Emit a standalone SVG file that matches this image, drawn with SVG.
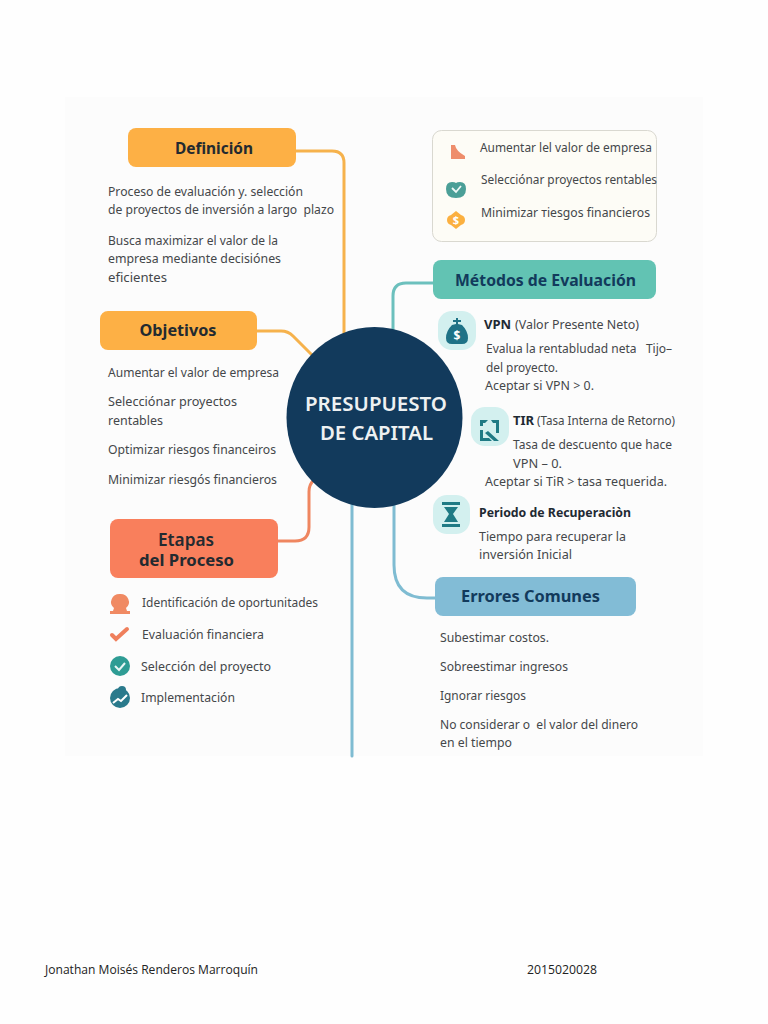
<svg xmlns="http://www.w3.org/2000/svg" width="768" height="1024" viewBox="0 0 768 1024">
<style>
text{font-family:"Noto Sans","Liberation Sans",sans-serif;font-size:13px;fill:#44474a;white-space:pre}
.h{font-family:"Noto Sans","Liberation Sans",sans-serif;font-weight:700;font-size:16px;fill:#232a30;text-anchor:middle}
.n{fill:#123a5c}
.b{font-weight:700;fill:#1f2a33}
.c{fill:none;stroke-width:3;stroke-linecap:round}
.y{stroke:#f6b24c}.o{stroke:#ef8660}.t{stroke:#6cc0bd}.u{stroke:#7fbcd2}
.ti{fill:#d3f0ef}
.ft{font-family:"Open Sans","Liberation Sans",sans-serif;font-size:12px;fill:#222}
.m{font-family:"Noto Sans","Liberation Sans",sans-serif;font-weight:600;font-size:20px;fill:#eef1f2;text-anchor:middle}
</style>
<rect width="768" height="1024" fill="#fefefe"/>
<rect x="65" y="97" width="638" height="659" fill="#fcfcfc"/>
<g id="connectors">
<path class="c y" d="M296 151H332Q344 151 344 163V335"/>
<path class="c y" d="M257 331H281Q288 331 293 336L312 355"/>
<path class="c o" d="M278 541H295Q309 541 309 527V492Q309 484 314 480"/>
<path class="c t" d="M433 283H406Q393 283 393 296V335"/>
<path class="c u" d="M394 500V565Q394 598 427 598H435"/>
<path class="c u" d="M352 500V756"/>
</g>
<g id="center"><ellipse cx="374.500" cy="417.500" rx="88" ry="90.500" fill="#123a5c"/>
<text class="m" x="376" y="411" textLength="142" lengthAdjust="spacingAndGlyphs">PRESUPUESTO</text>
<text class="m" x="376.500" y="440" textLength="113" lengthAdjust="spacingAndGlyphs">DE CAPITAL</text></g>
<g id="definicion"><rect x="128" y="128" width="168" height="39" rx="8" fill="#fdb045"/>
<text class="h" x="214" y="154" textLength="78" lengthAdjust="spacingAndGlyphs">Definición</text>
<text x="108" y="196" textLength="195" lengthAdjust="spacingAndGlyphs">Proceso de evaluación y. selección</text>
<text x="108" y="214" textLength="226" lengthAdjust="spacingAndGlyphs">de proyectos de inversión a largo  plazo</text>
<text x="108" y="245" textLength="170" lengthAdjust="spacingAndGlyphs">Busca maximizar el valor de la</text>
<text x="108" y="263" textLength="173" lengthAdjust="spacingAndGlyphs">empresa mediante decisiónes</text>
<text x="108" y="282" textLength="59" lengthAdjust="spacingAndGlyphs">eficientes</text></g>
<g id="objetivos"><rect x="100" y="311" width="157" height="39" rx="8" fill="#fdb045"/>
<text class="h" x="178" y="336" textLength="77" lengthAdjust="spacingAndGlyphs">Objetivos</text>
<text x="108" y="377" textLength="171" lengthAdjust="spacingAndGlyphs">Aumentar el valor de empresa</text>
<text x="108" y="406" textLength="129" lengthAdjust="spacingAndGlyphs">Selecciónar proyectos</text>
<text x="108" y="425" textLength="55" lengthAdjust="spacingAndGlyphs">rentables</text>
<text x="108" y="454" textLength="168" lengthAdjust="spacingAndGlyphs">Optimizar riesgos financeiros</text>
<text x="108" y="484" textLength="169" lengthAdjust="spacingAndGlyphs">Minimizar riesgós financieros</text></g>
<g id="etapas"><rect x="110" y="519" width="168" height="59" rx="8" fill="#f97f5c"/>
<text class="h" x="186" y="546" style="font-weight:600;font-size:17px" textLength="56" lengthAdjust="spacingAndGlyphs">Etapas</text>
<text class="h" x="186.500" y="566" textLength="95" lengthAdjust="spacingAndGlyphs">del Proceso</text>
<path d="M120 594a8.500 8 0 0 1 6 14l1 3h3v3h-20v-3h3l1-3a8.500 8 0 0 1 6-14z" fill="#f08a63"/>
<path d="M112 635l4 4 11-10" fill="none" stroke="#ef7f5c" stroke-width="4" stroke-linecap="round"/>
<circle cx="120" cy="666" r="10" fill="#2e9c94"/><path d="M115 666l4 4 6-7" fill="none" stroke="#e8f6f5" stroke-width="2"/>
<circle cx="120" cy="698" r="10" fill="#2a7a8c"/><path d="M113 703l5-4 3 2 6-6" fill="none" stroke="#fff" stroke-width="2"/><circle cx="122" cy="690" r="4" fill="#2a7a8c"/>
<text x="142" y="607" textLength="176" lengthAdjust="spacingAndGlyphs">Identificación de oportunitades</text>
<text x="142" y="639" textLength="122" lengthAdjust="spacingAndGlyphs">Evaluación financiera</text>
<text x="141" y="671" textLength="130" lengthAdjust="spacingAndGlyphs">Selección del proyecto</text>
<text x="141" y="702" textLength="94" lengthAdjust="spacingAndGlyphs">Implementación</text></g>
<g id="resumen"><rect x="432.500" y="130.500" width="224" height="111" rx="9" fill="#fdfcf6" stroke="#d9d8d0"/>
<path d="M451 145h4q1 6 10 11v3h-14z" fill="#ee8d6b"/>
<path d="M446 189q0-7 6-7 3 0 4 1 1-1 4-1 6 0 6 7 0 9-10 9t-10-9z" fill="#4b9f97"/><path d="M452 188l4 4 5-6" fill="none" stroke="#eef8f6" stroke-width="1.800"/>
<path d="M456 211l5 4q4 1 4 5t-4 5l-5 4-5-4q-4-1-4-5t4-5z" fill="#fbb040"/>
<text x="456" y="224" style="font-size:11px;fill:#fff;font-weight:700" text-anchor="middle">$</text>
<text x="480" y="152" textLength="172" lengthAdjust="spacingAndGlyphs">Aumentar lel valor de empresa</text>
<text x="481" y="184" textLength="176" lengthAdjust="spacingAndGlyphs">Selecciónar proyectos rentables</text>
<text x="481" y="217" textLength="169" lengthAdjust="spacingAndGlyphs">Minimizar тiesgos financieros</text></g>
<g id="metodos"><rect x="433" y="260" width="223" height="39" rx="8" fill="#62c3b3"/>
<text class="h n" x="545.500" y="286" textLength="181" lengthAdjust="spacingAndGlyphs">Métodos de Evaluación</text>
<rect class="ti" x="438" y="311" width="38" height="39" rx="14"/>
<path d="M456 318h2v2h3v2h-3v2l4 1q6 6 6 13 0 6-6 6h-10q-6 0-6-6 0-7 6-13l4-1v-2h-3v-2h3z" fill="#1f7286"/>
<text x="457" y="340" style="font-size:12px;font-weight:700;fill:#fff" text-anchor="middle">$</text>
<text class="b" x="484" y="329">VPN</text>
<text x="515" y="329" textLength="124" lengthAdjust="spacingAndGlyphs">(Valor Presente Neto)</text>
<text x="486" y="353" textLength="186" lengthAdjust="spacingAndGlyphs">Evalua la rentabludad neta   Tijo–</text>
<text x="486" y="372" textLength="72" lengthAdjust="spacingAndGlyphs">del proyecto.</text>
<text x="485" y="390" textLength="109" lengthAdjust="spacingAndGlyphs">Aceptar si VPN &gt; 0.</text>
<rect class="ti" x="471" y="407" width="38" height="39" rx="14"/>
<path d="M480 420h8l-3 3h-2v3h-3zM491 420h8v13h-3v-10h-3zM480 430h3v8h6l3 3h-12zM488 431l11 10h-5l-9-8z" fill="#1f7a84"/>
<text class="b" x="513" y="425">TIR</text>
<text x="537" y="425" textLength="138" lengthAdjust="spacingAndGlyphs">(Tasa Interna de Retorno)</text>
<text x="513" y="449" textLength="159" lengthAdjust="spacingAndGlyphs">Tasa de descuento que hace</text>
<text x="513" y="468" textLength="49" lengthAdjust="spacingAndGlyphs">VPN – 0.</text>
<text x="485" y="486" textLength="182" lengthAdjust="spacingAndGlyphs">Aceptar si TiR &gt; tasa тequerida.</text>
<rect class="ti" x="433" y="495" width="37" height="39" rx="14"/>
<path d="M442 502h18v3h-18zM442 524h18v3h-18zM444 507h14l-5 7 5 8h-14l5-8z" fill="#1f7a84"/>
<text class="b" x="479" y="517" textLength="152" lengthAdjust="spacingAndGlyphs">Periodo de Recuperaciòn</text>
<text x="479" y="541" textLength="147" lengthAdjust="spacingAndGlyphs">Tiempo para recuperar la</text>
<text x="479" y="559" textLength="93" lengthAdjust="spacingAndGlyphs">inversión Inicial</text></g>
<g id="errores"><rect x="435" y="577" width="201" height="39" rx="8" fill="#82bcd6"/>
<text class="h n" x="530.500" y="602" textLength="139" lengthAdjust="spacingAndGlyphs">Errores Comunes</text>
<text x="440" y="642" textLength="109" lengthAdjust="spacingAndGlyphs">Subestimar costos.</text>
<text x="440" y="671" textLength="128" lengthAdjust="spacingAndGlyphs">Sobreestimar ingresos</text>
<text x="440" y="700" textLength="86" lengthAdjust="spacingAndGlyphs">Ignorar riesgos</text>
<text x="440" y="729" textLength="198" lengthAdjust="spacingAndGlyphs">No considerar o  el valor del dinero</text>
<text x="440" y="747" textLength="72" lengthAdjust="spacingAndGlyphs">en el tiempo</text></g>
<g id="footer"><text class="ft" x="45" y="974" textLength="213" lengthAdjust="spacingAndGlyphs">Jonathan Moisés Renderos Marroquín</text>
<text class="ft" x="527" y="974" textLength="70" lengthAdjust="spacingAndGlyphs">2015020028</text></g>
</svg>
